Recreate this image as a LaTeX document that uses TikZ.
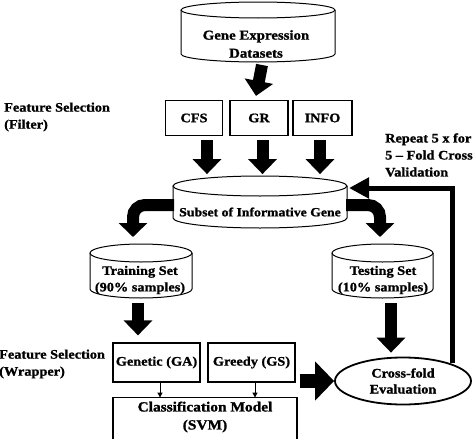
\documentclass[tikz,border=0pt]{standalone}
\usepackage{fontspec}
\setmainfont{Liberation Serif}[FakeStretch=1.1, BoldFeatures={FakeBold=1.2}]
\usetikzlibrary{arrows.meta,shapes.geometric,calc}
\newcommand\cylshape[5]{% x1,x2,yt,yb,ry
  \draw[cylline] ({(#1+#2)/2},{#3+#5}) ellipse [x radius={(#2-#1)/2*1pt}, y radius={#5*1pt}];
  \draw[cylline] (#1,{#3+#5}) -- (#1,{#4-#5})
     arc[start angle=180, end angle=360, x radius={(#2-#1)/2*1pt}, y radius={#5*1pt}]
     -- (#2,{#3+#5});
}
\begin{document}
\begin{tikzpicture}[x=1pt,y=-1pt,
  txt/.style={font=\bfseries\fontsize{13}{16.5}\selectfont, align=center, inner sep=0pt},
  ltxt/.style={font=\bfseries\fontsize{13}{17}\selectfont, align=left, inner sep=0pt, anchor=west},
  cylline/.style={line width=1pt},
  box/.style={draw, line width=1.2pt, font=\bfseries\fontsize{13}{16.5}\selectfont, align=center, inner sep=0pt},
  bigarrow/.style={line width=12pt, -{Triangle[length=15pt,width=28pt]}},
  curvearrow/.style={line width=12pt, rounded corners=12pt, -{Triangle[length=14pt,width=28pt]}},
  fatarrow/.style={line width=14pt, -{Triangle[length=19pt,width=38pt]}},
  fb/.style={line width=5pt, -{Triangle[length=20pt,width=20pt]}},
  thinarrow/.style={line width=0.8pt, -{Triangle[length=5pt,width=5pt]}}
]
\useasboundingbox (0,0) rectangle (474,439);

% cylinders
\cylshape{181}{335}{2}{62}{8}
\node[txt, font=\bfseries\fontsize{13.5}{18}\selectfont] (gene) at (256,44) {Gene Expression\\Datasets};
\cylshape{173}{347}{176}{228}{10}
\node[txt, font=\bfseries\fontsize{12.5}{16}\selectfont] (subset) at (260,212) {Subset of Informative Gene};
\cylshape{90}{192}{244}{298}{9}
\node[txt] (train) at (140,280) {Training Set\\(90\% samples)};
\cylshape{332}{433}{244}{298}{9}
\node[txt] (test) at (383,280) {Testing Set\\(10\% samples)};

\coordinate (geneS) at (262,65);
\coordinate (subsetW) at (174,205);
\coordinate (subsetE) at (346,205);
\coordinate (subsetR) at (349,188);
\coordinate (trainN) at (133,237);
\coordinate (testN) at (380,237);
\coordinate (trainS) at (138,303);
\coordinate (testS) at (391,303);

% filter boxes
\node[box, minimum width=57pt, minimum height=35pt] (cfs) at (194,118) {CFS};
\node[box, minimum width=58pt, minimum height=35pt] (gr) at (259,118) {GR};
\node[box, minimum width=59pt, minimum height=35pt] (info) at (322.5,118) {INFO};

\draw[bigarrow] (geneS) -- ($(gene |- cfs.north)+(0,-4)$);
\draw[bigarrow] ($(cfs.south)+(13,4)$) -- ($(cfs.south)+(13,38)$);
\draw[bigarrow] ($(gr.south)+(3.5,4)$) -- ($(gr.south)+(3.5,38)$);
\draw[bigarrow] ($(info.south)+(-2.5,4)$) -- ($(info.south)+(-2.5,38)$);

\draw[curvearrow] (subsetW) -| (trainN);
\draw[curvearrow] (subsetE) -| (testN);

% wrapper boxes
\node[box, minimum width=87pt, minimum height=39pt] (ga) at (156.5,362.5) {Genetic (GA)};
\node[box, minimum width=87pt, minimum height=39pt] (gs) at (251.5,362.5) {Greedy (GS)};
\node[box, anchor=north, minimum width=184pt, inner ysep=4pt, font=\bfseries\fontsize{14}{18}\selectfont] (cls) at (205,397) {Classification Model\\(SVM)\\[22pt]\mbox{}};

\node[draw, ellipse, line width=1.8pt, minimum width=136pt, minimum height=47pt, font=\bfseries\fontsize{13}{16}\selectfont, align=center, inner sep=0pt] (cf) at (403,381) {Cross-fold\\Evaluation};

\draw[bigarrow] (trainS) -- ($(ga.north)+(-18.5,-7)$);
\draw[bigarrow] (testS) -- ($(cf.north)+(-12,-4)$);
\draw[thinarrow] ($(ga.south)+(3.5,0)$) -- ($(ga.south)+(3.5,15)$);
\draw[thinarrow] ($(gs.south)+(3.5,0)$) -- ($(gs.south)+(3.5,15)$);
\draw[fatarrow] ($(gs.east |- cf.west)+(4,0)$) -- (cf.west);
\draw[fb] ($(cf.center)+(49,-18)$) |- (subsetR);

% labels
\node[ltxt] (filt) at (4,117) {Feature Selection\\(Filter)};
\node[ltxt] (rep) at (385,155) {Repeat 5 x for\\5 – Fold Cross\\Validation};
\node[ltxt] (wrap) at (-1,364) {Feature Selection\\(Wrapper)};
\end{tikzpicture}
\end{document}
